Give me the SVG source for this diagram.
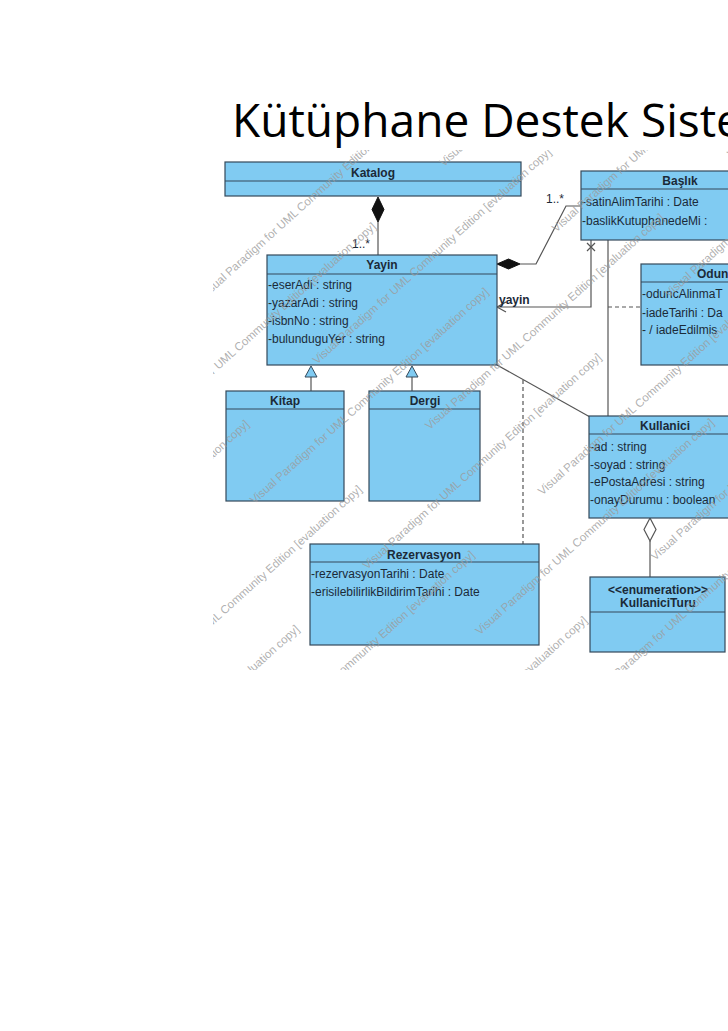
<svg xmlns="http://www.w3.org/2000/svg" width="728" height="1031" viewBox="0 0 728 1031">
<style>
.box{fill:#80cbf2;stroke:#34495a;stroke-width:1.2}
.sep{stroke:#34495a;stroke-width:1.2}
.hd{font-family:"Liberation Sans",Arial,sans-serif;font-size:12px;font-weight:bold;fill:#1b2a38;text-anchor:middle}
.at{font-family:"Liberation Sans",Arial,sans-serif;font-size:12px;fill:#1b2a38}
.ln{fill:none;stroke:#555;stroke-width:1.2}
.dash{fill:none;stroke:#555;stroke-width:1.2;stroke-dasharray:4 3}
.lbl{font-family:"Liberation Sans",Arial,sans-serif;font-size:12px;fill:#1b2a38}
.wm{font-family:"Liberation Sans",Arial,sans-serif;font-size:11.5px;fill:#9c9c9c;fill-opacity:0.8}
</style>
<defs>
<clipPath id="wmclip"><rect x="213" y="150" width="515" height="520"/></clipPath>
</defs>
<rect width="728" height="1031" fill="#ffffff"/>
<text x="232" y="137" font-family="'Open Sans','Liberation Sans',sans-serif" font-size="46" fill="#000" textLength="510" lengthAdjust="spacingAndGlyphs">Kütüphane Destek Siste</text>

<g id="connectors">
<line class="ln" x1="378" y1="222" x2="378" y2="255"/>
<polygon points="378,197 384,209.5 378,222 372,209.5" fill="#111" stroke="#111"/>
<text class="lbl" x="352" y="248">1..*</text>
<polyline class="ln" points="520,264 536,264 566,206 581,206"/>
<polygon points="497,264 508.5,259 520,264 508.5,269" fill="#111" stroke="#111"/>
<text class="lbl" x="546" y="203">1..*</text>
<polyline class="ln" points="591,240 591,307 497,307"/>
<polyline class="ln" points="506,302 497,307 506,312"/>
<path class="ln" d="M587,243 L595,251 M595,243 L587,251"/>
<text class="lbl" x="499" y="304" font-weight="bold">yayin</text>
<line class="ln" x1="608" y1="240" x2="608" y2="416"/>
<line class="dash" x1="608" y1="307" x2="641" y2="307"/>
<line class="ln" x1="497" y1="365" x2="590" y2="417"/>
<line class="dash" x1="523" y1="380" x2="523" y2="544"/>
<line class="ln" x1="311" y1="377" x2="311" y2="391"/>
<polygon points="311,366 317,377 305,377" fill="#80cbf2" stroke="#34495a"/>
<line class="ln" x1="412" y1="377" x2="412" y2="391"/>
<polygon points="412,366 418,377 406,377" fill="#80cbf2" stroke="#34495a"/>
<line class="ln" x1="650" y1="541" x2="650" y2="577"/>
<polygon points="650,518 656,529.5 650,541 644,529.5" fill="#fff" stroke="#555" stroke-width="1.2"/>
</g>

<g id="Katalog">
<rect class="box" x="225" y="162" width="296" height="34"/>
<line class="sep" x1="225" y1="181" x2="521" y2="181"/>
<text class="hd" x="373" y="177">Katalog</text>
</g>

<g id="Baslik">
<rect class="box" x="581" y="171" width="200" height="69"/>
<line class="sep" x1="581" y1="189" x2="781" y2="189"/>
<text class="hd" x="680" y="185">Başlık</text>
<text class="at" x="582" y="206">-satinAlimTarihi : Date</text>
<text class="at" x="582" y="225">-baslikKutuphanedeMi :</text>
</g>

<g id="Yayin">
<rect class="box" x="267" y="255" width="230" height="110"/>
<line class="sep" x1="267" y1="274" x2="497" y2="274"/>
<text class="hd" x="382" y="269">Yayin</text>
<text class="at" x="268" y="289">-eserAdi : string</text>
<text class="at" x="268" y="307">-yazarAdi : string</text>
<text class="at" x="268" y="325">-isbnNo : string</text>
<text class="at" x="268" y="343">-bulunduguYer : string</text>
</g>

<g id="Odunc">
<rect class="box" x="641" y="264" width="160" height="101"/>
<line class="sep" x1="641" y1="282" x2="801" y2="282"/>
<text class="hd" x="697" y="278" style="text-anchor:start">Odunc</text>
<text class="at" x="642" y="298">-oduncAlinmaT</text>
<text class="at" x="642" y="317">-iadeTarihi : Da</text>
<text class="at" x="642" y="334">- / iadeEdilmis</text>
</g>

<g id="Kitap">
<rect class="box" x="226" y="391" width="118" height="110"/>
<line class="sep" x1="226" y1="409" x2="344" y2="409"/>
<text class="hd" x="285" y="405">Kitap</text>
</g>

<g id="Dergi">
<rect class="box" x="369" y="391" width="111" height="110"/>
<line class="sep" x1="369" y1="409" x2="480" y2="409"/>
<text class="hd" x="425" y="405">Dergi</text>
</g>

<g id="Kullanici">
<rect class="box" x="589" y="416" width="152" height="102"/>
<line class="sep" x1="589" y1="434" x2="741" y2="434"/>
<text class="hd" x="665" y="430">Kullanici</text>
<text class="at" x="590" y="451">-ad : string</text>
<text class="at" x="590" y="469">-soyad : string</text>
<text class="at" x="590" y="486">-ePostaAdresi : string</text>
<text class="at" x="590" y="504">-onayDurumu : boolean</text>
</g>

<g id="Rezervasyon">
<rect class="box" x="310" y="544" width="229" height="101"/>
<line class="sep" x1="310" y1="562" x2="539" y2="562"/>
<text class="hd" x="424" y="559">Rezervasyon</text>
<text class="at" x="311" y="578">-rezervasyonTarihi : Date</text>
<text class="at" x="311" y="596">-erisilebilirlikBildirimTarihi : Date</text>
</g>

<g id="KullaniciTuru">
<rect class="box" x="590" y="577" width="135" height="75"/>
<line class="sep" x1="590" y1="612" x2="725" y2="612"/>
<text class="hd" x="658" y="594">&lt;&lt;enumeration&gt;&gt;</text>
<text class="hd" x="658" y="607">KullaniciTuru</text>
</g>

<g id="watermark" clip-path="url(#wmclip)">
<g transform="rotate(-42 470 410)">
<text class="wm" x="-60" y="150">Visual Paradigm for UML Community Edition [evaluation copy]<tspan dx="90">Visual Paradigm for UML Community Edition [evaluation copy]</tspan><tspan dx="90">Visual Paradigm for UML Community Edition [evaluation copy]</tspan></text>
<text class="wm" x="-200" y="212">Visual Paradigm for UML Community Edition [evaluation copy]<tspan dx="90">Visual Paradigm for UML Community Edition [evaluation copy]</tspan><tspan dx="90">Visual Paradigm for UML Community Edition [evaluation copy]</tspan></text>
<text class="wm" x="-20" y="274">Visual Paradigm for UML Community Edition [evaluation copy]<tspan dx="90">Visual Paradigm for UML Community Edition [evaluation copy]</tspan><tspan dx="90">Visual Paradigm for UML Community Edition [evaluation copy]</tspan></text>
<text class="wm" x="-160" y="336">Visual Paradigm for UML Community Edition [evaluation copy]<tspan dx="90">Visual Paradigm for UML Community Edition [evaluation copy]</tspan><tspan dx="90">Visual Paradigm for UML Community Edition [evaluation copy]</tspan></text>
<text class="wm" x="20" y="398">Visual Paradigm for UML Community Edition [evaluation copy]<tspan dx="90">Visual Paradigm for UML Community Edition [evaluation copy]</tspan><tspan dx="90">Visual Paradigm for UML Community Edition [evaluation copy]</tspan></text>
<text class="wm" x="-120" y="460">Visual Paradigm for UML Community Edition [evaluation copy]<tspan dx="90">Visual Paradigm for UML Community Edition [evaluation copy]</tspan><tspan dx="90">Visual Paradigm for UML Community Edition [evaluation copy]</tspan></text>
<text class="wm" x="60" y="522">Visual Paradigm for UML Community Edition [evaluation copy]<tspan dx="90">Visual Paradigm for UML Community Edition [evaluation copy]</tspan><tspan dx="90">Visual Paradigm for UML Community Edition [evaluation copy]</tspan></text>
<text class="wm" x="-80" y="584">Visual Paradigm for UML Community Edition [evaluation copy]<tspan dx="90">Visual Paradigm for UML Community Edition [evaluation copy]</tspan><tspan dx="90">Visual Paradigm for UML Community Edition [evaluation copy]</tspan></text>
<text class="wm" x="100" y="646">Visual Paradigm for UML Community Edition [evaluation copy]<tspan dx="90">Visual Paradigm for UML Community Edition [evaluation copy]</tspan><tspan dx="90">Visual Paradigm for UML Community Edition [evaluation copy]</tspan></text>
<text class="wm" x="-40" y="708">Visual Paradigm for UML Community Edition [evaluation copy]<tspan dx="90">Visual Paradigm for UML Community Edition [evaluation copy]</tspan><tspan dx="90">Visual Paradigm for UML Community Edition [evaluation copy]</tspan></text>
</g>
</g>
</svg>
